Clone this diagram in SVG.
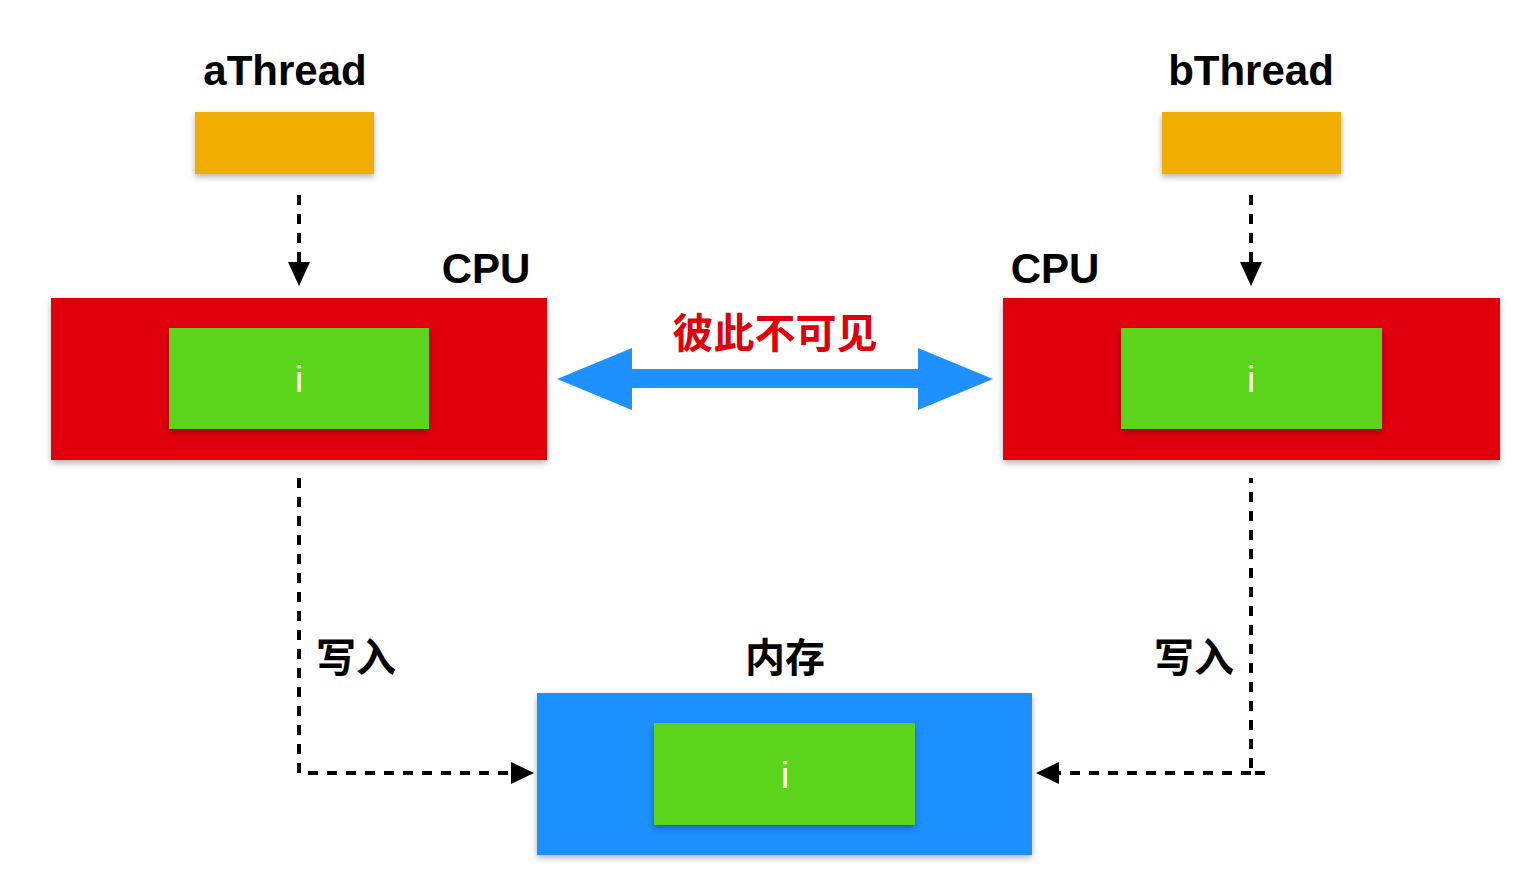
<svg xmlns="http://www.w3.org/2000/svg" width="1534" height="890" viewBox="0 0 1534 890">
<defs>
<filter id="sh" x="-10%" y="-20%" width="120%" height="150%">
<feDropShadow dx="0" dy="3" stdDeviation="3" flood-color="#000" flood-opacity="0.3"/>
</filter>
</defs>
<style>
.thread{fill:#F2AE00;filter:url(#sh)}
.cpu{fill:#E0000B;filter:url(#sh)}
.mem{fill:#1E90FF;filter:url(#sh)}
.var{fill:#5CD41E;filter:url(#sh)}
.lbl{font-family:"Liberation Sans",Arial,sans-serif;font-weight:bold;fill:#000}
.cjk{font-family:"Noto Sans CJK SC","Noto Sans",sans-serif;font-weight:bold;fill:#000}
.ivar{font-family:"Liberation Sans",Arial,sans-serif;font-size:37px;fill:#fff;text-anchor:middle}
.dash{fill:none;stroke:#000;stroke-width:4;stroke-dasharray:10 9}
</style>
<g id="aThread">
<text class="lbl" x="285" y="85" font-size="42" text-anchor="middle">aThread</text>
<rect class="thread" x="195" y="112" width="179" height="62"/>
</g>
<g id="bThread">
<text class="lbl" x="1251" y="85" font-size="42" text-anchor="middle">bThread</text>
<rect class="thread" x="1162" y="112" width="179" height="62"/>
</g>
<g id="cpuA">
<text class="lbl" x="486" y="283" font-size="42" text-anchor="middle">CPU</text>
<rect class="cpu" x="51" y="298" width="496" height="162"/>
<rect class="var" x="169" y="328" width="260" height="101"/>
<text class="ivar" x="299" y="392">i</text>
</g>
<g id="cpuB">
<text class="lbl" x="1055" y="283" font-size="42" text-anchor="middle">CPU</text>
<rect class="cpu" x="1003" y="298" width="497" height="162"/>
<rect class="var" x="1121" y="328" width="261" height="101"/>
<text class="ivar" x="1251" y="392">i</text>
</g>
<g id="memory">
<text class="cjk" x="785" y="672" font-size="40" text-anchor="middle">内存</text>
<rect class="mem" x="537" y="693" width="495" height="162"/>
<rect class="var" x="654" y="723" width="261" height="102"/>
<text class="ivar" x="785" y="788">i</text>
</g>
<g id="connectors">
<path class="dash" d="M299,195 L299,262"/>
<path d="M288,262 L310,262 L299,286 Z" fill="#000"/>
<path class="dash" d="M1251,195 L1251,262"/>
<path d="M1240,262 L1262,262 L1251,286 Z" fill="#000"/>
<path class="dash" d="M299,478 L299,773 L512,773"/>
<path d="M511,762 L511,784 L534,773 Z" fill="#000"/>
<path class="dash" d="M1265,773 L1251,773 L1251,478"/>
<path class="dash" d="M1251,773 L1058,773"/>
<path d="M1059,762 L1059,784 L1036,773 Z" fill="#000"/>
<path d="M557,379 L632,348 L632,369 L918,369 L918,348 L993,379 L918,410 L918,388 L632,388 L632,410 Z" fill="#1E90FF"/>
<text class="cjk" x="775" y="348" font-size="41" text-anchor="middle" style="fill:#E0000B">彼此不可见</text>
<text class="cjk" x="356" y="672" font-size="40" text-anchor="middle">写入</text>
<text class="cjk" x="1194" y="672" font-size="40" text-anchor="middle">写入</text>
</g>
</svg>
